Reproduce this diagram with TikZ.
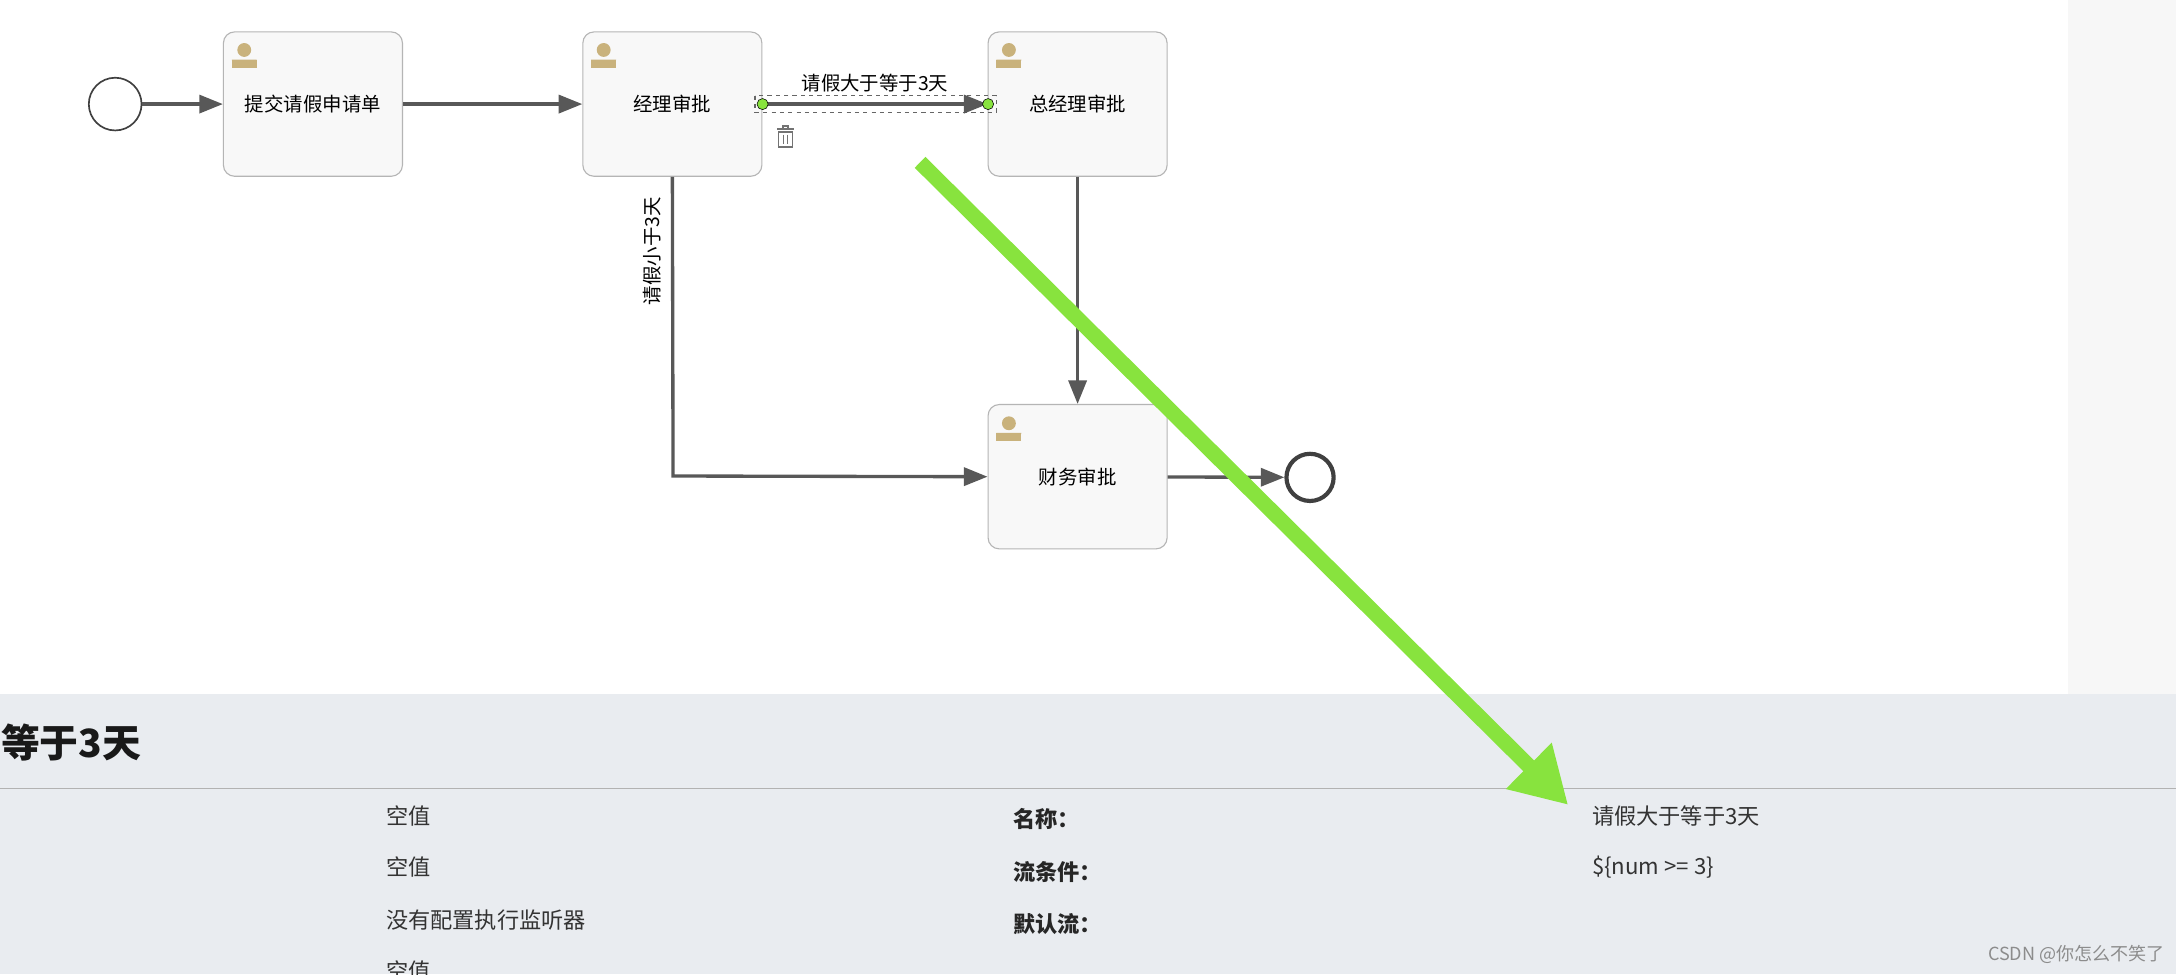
\documentclass[tikz,border=0pt]{standalone}
\usepackage{fontspec}
\setmainfont{Noto Sans CJK SC}
\usetikzlibrary{arrows.meta,calc}
\definecolor{flow}{HTML}{585858}
\definecolor{boxfill}{HTML}{F8F8F8}
\definecolor{boxline}{HTML}{B5B5B5}
\definecolor{panel}{HTML}{E9ECF0}
\definecolor{strip}{HTML}{F7F7F7}
\definecolor{greenarr}{HTML}{88E33E}
\definecolor{iconc}{HTML}{C9B27C}
\tikzset{
  task/.style={draw=boxline,fill=boxfill,rounded corners=8pt,minimum width=129pt,minimum height=104pt,font=\fontsize{14}{16}\selectfont,inner sep=0pt,line width=0.8pt},
  flowline/.style={draw=flow,line width=2.4pt,-{Triangle[length=17pt,width=13pt]}},
  ptxt/.style={font=\fontsize{16}{18}\selectfont,text=black!80,anchor=west,inner sep=0pt},
  plab/.style={font=\fontsize{16}{18}\selectfont\bfseries,text=black!85,anchor=west,inner sep=0pt}
}
\newcommand{\usericon}[1]{%
  \fill[iconc] ($(#1)+(0,-3)$) circle (5pt);
  \fill[iconc] ($(#1)+(-9,10)$) rectangle ($(#1)+(9,4)$);
  \fill[iconc] ($(#1)+(-9,4)$) arc (180:0:9pt and -5pt) -- cycle;}
\begin{document}
\begin{tikzpicture}[x=1pt,y=-1pt]
\useasboundingbox (0,0) rectangle (1568,702);
\clip (0,0) rectangle (1568,702);
\fill[white] (0,0) rectangle (1568,702);
\fill[strip] (1490,0) rectangle (1568,500);
\fill[panel] (0,500) rectangle (1568,702);
\draw[black!30,line width=0.8pt] (0,568) -- (1568,568);

\node[draw=black!75,line width=1.2pt,circle,minimum size=38pt,inner sep=0pt] (start) at (83,75) {};
\node[task] (t1) at (225.5,75) {提交请假申请单};
\node[task] (t2) at (484.5,75) {经理审批};
\node[task] (t3) at (776.5,75) {总经理审批};
\node[task] (t4) at (776.5,343.5) {财务审批};
\node[draw=black!75,line width=3pt,circle,minimum size=34pt,inner sep=0pt] (end) at (944,344) {};
\usericon{176,39}
\usericon{435,39}
\usericon{727,39}
\usericon{727,308}

\draw[flowline] (start) -- (t1);
\draw[flowline] (t1) -- (t2);
\draw[black!60,dashed,line width=0.8pt] (544,69) rectangle (718,81);
\draw[flowline] (t2) -- node[above=4pt,font=\fontsize{14}{16}\selectfont,text=black] {请假大于等于3天} (t3);
\fill[greenarr,draw=black] (549.5,75) circle (4pt);
\fill[greenarr,draw=black] (712,75) circle (4pt);
\draw[flowline] (t2.south) -- (485,343) -- (t4.west);
\node[rotate=90,font=\fontsize{14}{16}\selectfont,text=black] (lab2) at (470,181) {请假小于3天};
\draw[flowline] (t3) -- (t4);
\draw[flowline] (t4) -- (end);
\draw[black!55,line width=1.2pt] (560,93) -- (572,93) (564,93) -- (564,91) -- (568,91) -- (568,93)
 (561,95) rectangle (571,106) (564.5,97) -- (564.5,104) (567.5,97) -- (567.5,104);
\coordinate (ga) at (663,117);
\coordinate (gb) at (1130,580);
\draw[greenarr,line width=11pt,-{Triangle[length=40pt,width=44pt]}] (ga) -- (gb);

\node[font=\fontsize{28}{30}\selectfont\bfseries,anchor=east,inner sep=0pt,text=black!90] (title) at (102,535) {等于3天};
\node[ptxt] (v1) at (278,588) {空值};
\node[ptxt] (v2) at (278,625) {空值};
\node[ptxt] (v3) at (278,663) {没有配置执行监听器};
\node[ptxt] (v4) at (278,700) {空值};
\node[plab] (l1) at (730,590) {名称：};
\node[plab] (l2) at (730,628) {流条件：};
\node[plab] (l3) at (730,666) {默认流：};
\node[ptxt] (r1) at (1147,588) {请假大于等于3天};
\node[ptxt] (r2) at (1147,625) {\$\{num >= 3\}};
\node[font=\fontsize{13}{15}\selectfont,text=black!45,anchor=east,inner sep=0pt] (wm) at (1560,688) {CSDN @你怎么不笑了};
\end{tikzpicture}
\end{document}
